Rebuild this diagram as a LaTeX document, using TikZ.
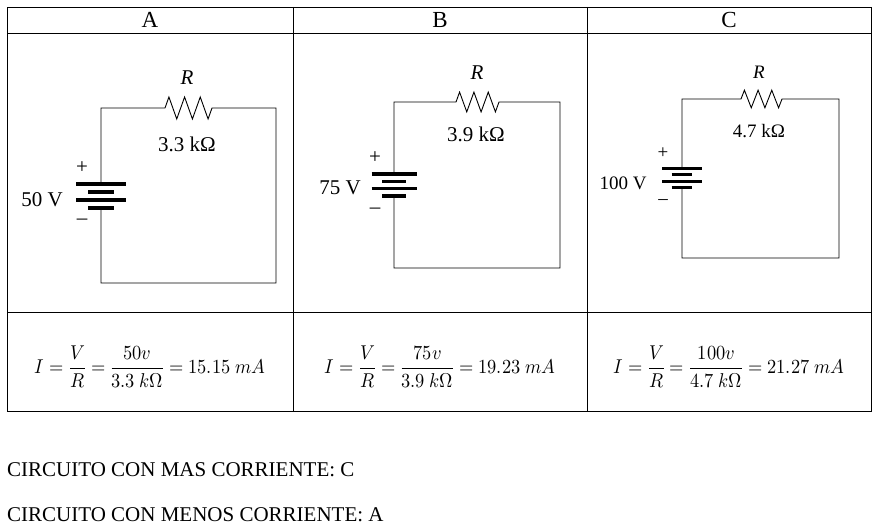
\documentclass[tikz,border=0pt]{standalone}
\usepackage{fontspec}
\usepackage{unicode-math}
\setmainfont{Liberation Serif}
\begin{document}
\newcommand{\mycirc}[9]{%
 \pgfmathsetmacro{\rw}{(#6-#5)/6}%
 \draw[wire] (#1,#7-12*#8) -- (#1,#2) -- (#5,#2)
   -- ++(\rw/2,-11*#8) -- ++(\rw,22*#8) -- ++(\rw,-22*#8) -- ++(\rw,22*#8) -- ++(\rw,-22*#8) -- ++(\rw,22*#8) -- (#6,#2)
   -- (#3,#2) -- (#3,#4) -- (#1,#4) -- (#1,#7+12*#8);
 \draw[plate,line width=3.8*#8] (#1-25*#8,#7-12*#8) -- (#1+25*#8,#7-12*#8);
 \draw[plate,line width=3.8*#8] (#1-13*#8,#7-4*#8) -- (#1+13*#8,#7-4*#8);
 \draw[plate,line width=3.8*#8] (#1-25*#8,#7+4*#8) -- (#1+25*#8,#7+4*#8);
 \draw[plate,line width=3.8*#8] (#1-13*#8,#7+12*#8) -- (#1+13*#8,#7+12*#8);
 #9}
\begin{tikzpicture}[x=1pt,y=-1pt,
 wire/.style={line width=0.9pt},
 plate/.style={line cap=butt},
 grid/.style={line width=0.8pt},
 lab/.style={font=\fontsize{21}{21}\selectfont,inner sep=0},
 labc/.style={font=\fontsize{19}{19}\selectfont,inner sep=0},
 eq/.style={font=\fontsize{20}{20}\selectfont,inner sep=0,xscale=0.92},
 hd/.style={font=\fontsize{23}{23}\selectfont,inner sep=0}]
\useasboundingbox (0,0) rectangle (877,526);
\fill[white] (0,0) rectangle (877,526);
\draw[grid] (7,7) rectangle (871,411);
\draw[grid] (7,33) -- (871,33) (7,312) -- (871,312);
\draw[grid] (293,7) -- (293,411) (587,7) -- (587,411);
\node[hd] (ha) at (150,20) {A};
\node[hd] (hb) at (440,20) {B};
\node[hd] (hc) at (729,20) {C};
\mycirc{101}{108}{276}{283}{165}{212}{196}{1}{%
 \node[lab] (ra) at (187,78) {\textit{R}};
 \node[lab] (va) at (187,144) {3.3 kΩ};
 \node[lab] (ba) at (42,200) {50 V};
 \node[lab] (pa) at (82,168) {+};
 \node[lab] (ma) at (82,222) {–};}
\mycirc{394}{102}{560}{268}{456}{499}{185}{0.9}{%
 \node[lab] (rb) at (477,73) {\textit{R}};
 \node[lab] (vb) at (476,134) {3.9 kΩ};
 \node[lab] (bb) at (340,188) {75 V};
 \node[lab] (pb) at (375,158) {+};
 \node[lab] (mb) at (375,211) {–};}
\mycirc{682}{99}{839}{258}{741}{782}{178}{0.8}{%
 \node[labc] (rc) at (759,72) {\textit{R}};
 \node[labc] (vc) at (759,131) {4.7 kΩ};
 \node[labc] (bc) at (623,183) {100 V};
 \node[labc] (pc) at (663,153) {+};
 \node[labc] (mc) at (663,202) {–};}
\node[eq] (ea) at (150,367) {$I=\dfrac{V}{R}=\dfrac{50v}{3.3\ k\Omega}=15.15\ mA$};
\node[eq] (eb) at (440,367) {$I=\dfrac{V}{R}=\dfrac{75v}{3.9\ k\Omega}=19.23\ mA$};
\node[eq] (ec) at (729,367) {$I=\dfrac{V}{R}=\dfrac{100v}{4.7\ k\Omega}=21.27\ mA$};
\node[lab,anchor=west] (t1) at (7,470) {CIRCUITO CON MAS CORRIENTE: C};
\node[lab,anchor=west] (t2) at (7,515) {CIRCUITO CON MENOS CORRIENTE: A};
\end{tikzpicture}
\end{document}
